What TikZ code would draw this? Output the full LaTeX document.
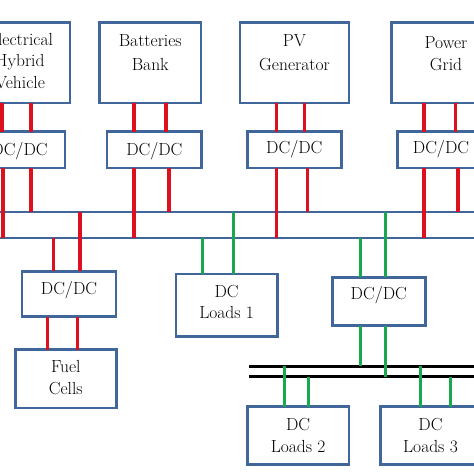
\documentclass[tikz,border=0pt]{standalone}
\definecolor{boxblue}{HTML}{41669A}
\definecolor{wirered}{HTML}{DD1020}
\definecolor{wiregreen}{HTML}{18A850}
\begin{document}
\begin{tikzpicture}[x=1pt,y=-1pt,
  box/.style={draw=boxblue,line width=2.8pt,fill=white,inner sep=0pt,outer sep=0pt},
  lbl/.style={anchor=base,inner sep=0pt,font=\fontsize{17.5}{21}\selectfont,text=black},
  redw/.style={draw=wirered,line width=3.3pt},
  greenw/.style={draw=wiregreen,line width=3pt},
  busw/.style={draw=boxblue,line width=2.8pt},
  blackw/.style={draw=black,line width=3.3pt}]
\useasboundingbox (0,0) rectangle (474,474);
\clip (0,0) rectangle (474,474);
% bus coordinates
\coordinate (busTL) at (-5,212);
\coordinate (busTR) at (480,212);
\coordinate (busBL) at (-5,238);
\coordinate (busBR) at (480,238);
\coordinate (blkTL) at (249,366.3);
\coordinate (blkTR) at (480,366.3);
\coordinate (blkBL) at (249,376.7);
\coordinate (blkBR) at (480,376.7);
\draw[busw] (busTL) -- (busTR);
\draw[busw] (busBL) -- (busBR);
\draw[blackw] (blkTL) -- (blkTR);
\draw[blackw] (blkBL) -- (blkBR);
% boxes
\node[box,minimum width=100pt,minimum height=80.3pt] (ehv) at (20,62.85) {};
\node[box,minimum width=101.5pt,minimum height=80.3pt] (batt) at (150.25,62.85) {};
\node[box,minimum width=109pt,minimum height=80.3pt] (pv) at (294.5,62.85) {};
\node[box,minimum width=108.3pt,minimum height=80.3pt] (grid) at (445.85,62.85) {};
\node[box,minimum width=91pt,minimum height=36.5pt] (dc1) at (19.5,149.75) {};
\node[box,minimum width=94.7pt,minimum height=36.5pt] (dc2) at (154.35,149.75) {};
\node[box,minimum width=94pt,minimum height=36.5pt] (dc3) at (294.3,149.75) {};
\node[box,minimum width=87.7pt,minimum height=36.5pt] (dc4) at (441.15,149.75) {};
\node[box,minimum width=94pt,minimum height=45.4pt] (dc5) at (69,294) {};
\node[box,minimum width=101pt,minimum height=58.3pt] (fuel) at (65.8,378.85) {};
\node[box,minimum width=101.3pt,minimum height=62.7pt] (load1) at (226.65,305.35) {};
\node[box,minimum width=93pt,minimum height=48.4pt] (dc6) at (378.8,301.5) {};
\node[box,minimum width=101.7pt,minimum height=58pt] (load2) at (298.15,435.7) {};
\node[box,minimum width=100.3pt,minimum height=58pt] (load3) at (430.85,435.7) {};
% labels
\node[lbl] (ehvA) at (20,45.7) {Electrical};
\node[lbl] (ehvB) at (20,66.7) {Hybrid};
\node[lbl] (ehvC) at (20,88.5) {Vehicle};
\node[lbl] (battA) at (150.25,46.7) {Batteries};
\node[lbl] (battB) at (150.25,70) {Bank};
\node[lbl] (pvA) at (294.5,46.7) {PV};
\node[lbl] (pvB) at (294.5,70) {Generator};
\node[lbl] (gridA) at (446,48) {Power};
\node[lbl] (gridB) at (446,70.7) {Grid};
\node[lbl] (dc1T) at (19.5,155) {DC/DC};
\node[lbl] (dc2T) at (154.35,155) {DC/DC};
\node[lbl] (dc3T) at (294.3,153.5) {DC/DC};
\node[lbl] (dc4T) at (441,153.5) {DC/DC};
\node[lbl] (dc5T) at (69,294) {DC/DC};
\node[lbl] (fuelA) at (65.8,372.3) {Fuel};
\node[lbl] (fuelB) at (65.8,394) {Cells};
\node[lbl] (load1A) at (226.65,297.3) {DC};
\node[lbl] (load1B) at (226.65,318.3) {Loads 1};
\node[lbl] (dc6T) at (378.8,299.7) {DC/DC};
\node[lbl] (load2A) at (298.15,430.7) {DC};
\node[lbl] (load2B) at (298.15,452.3) {Loads 2};
\node[lbl] (load3A) at (430.5,430.7) {DC};
\node[lbl] (load3B) at (430.5,452.3) {Loads 3};
% red connectors
\draw[redw] (2,0 |- ehv.south) -- (2,0 |- dc1.north);
\draw[redw] (31,0 |- ehv.south) -- (31,0 |- dc1.north);
\draw[redw] (3,0 |- dc1.south) -- (3,0 |- busBL);
\draw[redw] (31,0 |- dc1.south) -- (31,0 |- busTL);
\draw[redw] (134,0 |- batt.south) -- (134,0 |- dc2.north);
\draw[redw] (166,0 |- batt.south) -- (166,0 |- dc2.north);
\draw[redw] (134,0 |- dc2.south) -- (134,0 |- busBL);
\draw[redw] (169,0 |- dc2.south) -- (169,0 |- busTL);
\draw[redw] (276.3,0 |- pv.south) -- (276.3,0 |- dc3.north);
\draw[redw] (304.3,0 |- pv.south) -- (304.3,0 |- dc3.north);
\draw[redw] (276.3,0 |- dc3.south) -- (276.3,0 |- busBL);
\draw[redw] (307.3,0 |- dc3.south) -- (307.3,0 |- busTL);
\draw[redw] (424,0 |- grid.south) -- (424,0 |- dc4.north);
\draw[redw] (455.7,0 |- grid.south) -- (455.7,0 |- dc4.north);
\draw[redw] (424,0 |- dc4.south) -- (424,0 |- busBL);
\draw[redw] (458,0 |- dc4.south) -- (458,0 |- busTL);
\draw[redw] (53.3,0 |- busBL) -- (53.3,0 |- dc5.north);
\draw[redw] (80,0 |- busTL) -- (80,0 |- dc5.north);
\draw[redw] (47.3,0 |- dc5.south) -- (47.3,0 |- fuel.north);
\draw[redw] (77.3,0 |- dc5.south) -- (77.3,0 |- fuel.north);
% green connectors
\draw[greenw] (202.3,0 |- busBL) -- (202.3,0 |- load1.north);
\draw[greenw] (233.3,0 |- busTL) -- (233.3,0 |- load1.north);
\draw[greenw] (360,0 |- busBL) -- (360,0 |- dc6.north);
\draw[greenw] (385.7,0 |- busTL) -- (385.7,0 |- dc6.north);
\draw[greenw] (360,0 |- dc6.south) -- (360,0 |- blkTL);
\draw[greenw] (385.7,0 |- dc6.south) -- (385.7,0 |- blkBL);
\draw[greenw] (284,0 |- blkTL) -- (284,0 |- load2.north);
\draw[greenw] (308.3,0 |- blkBL) -- (308.3,0 |- load2.north);
\draw[greenw] (420.7,0 |- blkTL) -- (420.7,0 |- load3.north);
\draw[greenw] (450,0 |- blkBL) -- (450,0 |- load3.north);
\end{tikzpicture}
\end{document}
